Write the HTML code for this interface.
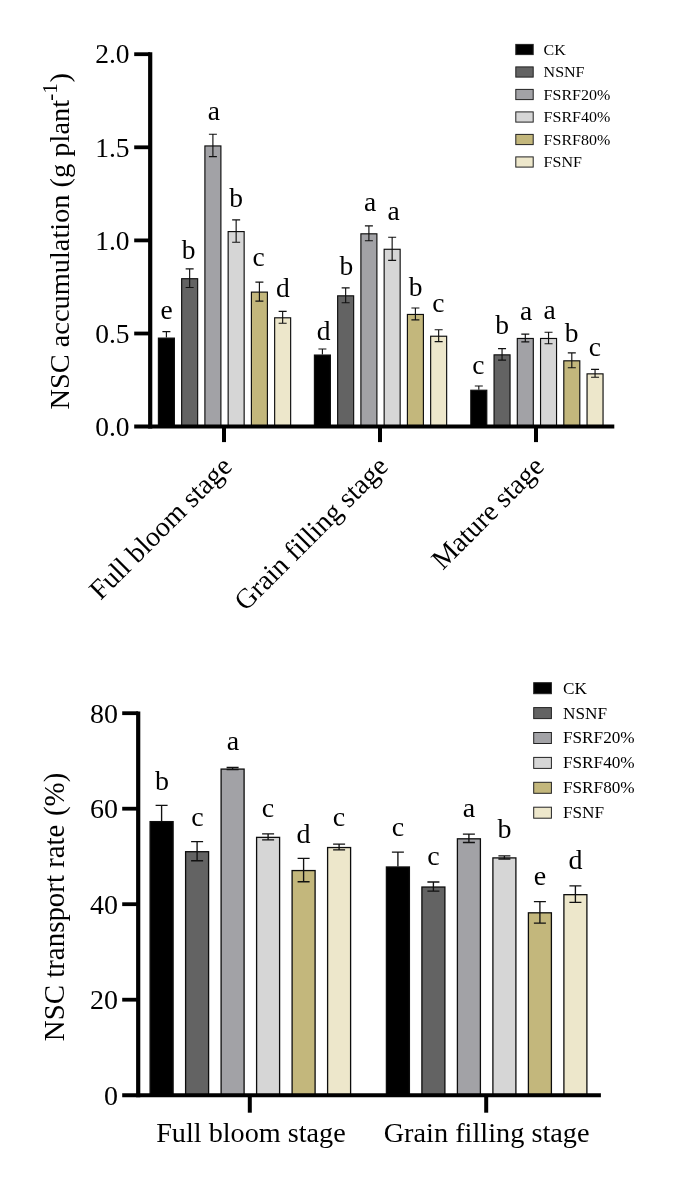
<!DOCTYPE html>
<html lang="en"><head><meta charset="utf-8"><title>NSC accumulation and transport rate</title>
<style>html,body{margin:0;padding:0;background:#fff}svg{display:block}text{font-family:'Liberation Serif','Times New Roman',serif;fill:#000}</style></head><body>
<svg width="685" height="1186" viewBox="0 0 685 1186">
<rect width="685" height="1186" fill="#fff"/>
<rect x="158.4" y="338.1" width="16" height="89" fill="#000000" stroke="#0d0d0d" stroke-width="1.15"/>
<path d="M166.4 331.64V337.6M162.4 331.64H170.4" stroke="#111" stroke-width="1.15" fill="none"/>
<rect x="181.65" y="278.7" width="16" height="148.4" fill="#636363" stroke="#0d0d0d" stroke-width="1.15"/>
<path d="M189.65 268.89V287.51M185.65 268.89H193.65M185.65 287.51H193.65" stroke="#111" stroke-width="1.15" fill="none"/>
<rect x="204.9" y="145.94" width="16" height="281.16" fill="#A2A2A6" stroke="#0d0d0d" stroke-width="1.15"/>
<path d="M212.9 134.27V156.61M208.9 134.27H216.9M208.9 156.61H216.9" stroke="#111" stroke-width="1.15" fill="none"/>
<rect x="228.15" y="231.59" width="16" height="195.51" fill="#D6D6D6" stroke="#0d0d0d" stroke-width="1.15"/>
<path d="M236.15 219.92V242.26M232.15 219.92H240.15M232.15 242.26H240.15" stroke="#111" stroke-width="1.15" fill="none"/>
<rect x="251.4" y="292.11" width="16" height="135" fill="#C3B77C" stroke="#0d0d0d" stroke-width="1.15"/>
<path d="M259.4 282.11V301.1M255.4 282.11H263.4M255.4 301.1H263.4" stroke="#111" stroke-width="1.15" fill="none"/>
<rect x="274.65" y="317.8" width="16" height="109.3" fill="#EDE7CB" stroke="#0d0d0d" stroke-width="1.15"/>
<path d="M282.65 311.34V323.26M278.65 311.34H286.65M278.65 323.26H286.65" stroke="#111" stroke-width="1.15" fill="none"/>
<rect x="314.4" y="355.04" width="16" height="72.06" fill="#000000" stroke="#0d0d0d" stroke-width="1.15"/>
<path d="M322.4 348.95V354.54M318.4 348.95H326.4" stroke="#111" stroke-width="1.15" fill="none"/>
<rect x="337.65" y="295.83" width="16" height="131.27" fill="#636363" stroke="#0d0d0d" stroke-width="1.15"/>
<path d="M345.65 287.88V302.78M341.65 287.88H349.65M341.65 302.78H349.65" stroke="#111" stroke-width="1.15" fill="none"/>
<rect x="360.9" y="233.82" width="16" height="193.28" fill="#A2A2A6" stroke="#0d0d0d" stroke-width="1.15"/>
<path d="M368.9 225.88V240.77M364.9 225.88H372.9M364.9 240.77H372.9" stroke="#111" stroke-width="1.15" fill="none"/>
<rect x="384.15" y="249.28" width="16" height="177.82" fill="#D6D6D6" stroke="#0d0d0d" stroke-width="1.15"/>
<path d="M392.15 237.23V260.32M388.15 237.23H396.15M388.15 260.32H396.15" stroke="#111" stroke-width="1.15" fill="none"/>
<rect x="407.4" y="314.45" width="16" height="112.65" fill="#C3B77C" stroke="#0d0d0d" stroke-width="1.15"/>
<path d="M415.4 307.99V319.91M411.4 307.99H419.4M411.4 319.91H419.4" stroke="#111" stroke-width="1.15" fill="none"/>
<rect x="430.65" y="336.23" width="16" height="90.87" fill="#EDE7CB" stroke="#0d0d0d" stroke-width="1.15"/>
<path d="M438.65 329.78V341.69M434.65 329.78H442.65M434.65 341.69H442.65" stroke="#111" stroke-width="1.15" fill="none"/>
<rect x="470.8" y="390.23" width="16" height="36.87" fill="#000000" stroke="#0d0d0d" stroke-width="1.15"/>
<path d="M478.8 386.01V389.73M474.8 386.01H482.8" stroke="#111" stroke-width="1.15" fill="none"/>
<rect x="494.05" y="354.85" width="16" height="72.25" fill="#636363" stroke="#0d0d0d" stroke-width="1.15"/>
<path d="M502.05 348.58V360.13M498.05 348.58H506.05M498.05 360.13H506.05" stroke="#111" stroke-width="1.15" fill="none"/>
<rect x="517.3" y="338.47" width="16" height="88.63" fill="#A2A2A6" stroke="#0d0d0d" stroke-width="1.15"/>
<path d="M525.3 334.06V341.88M521.3 334.06H529.3M521.3 341.88H529.3" stroke="#111" stroke-width="1.15" fill="none"/>
<rect x="540.55" y="338.47" width="16" height="88.63" fill="#D6D6D6" stroke="#0d0d0d" stroke-width="1.15"/>
<path d="M548.55 332.2V343.74M544.55 332.2H552.55M544.55 343.74H552.55" stroke="#111" stroke-width="1.15" fill="none"/>
<rect x="563.8" y="360.81" width="16" height="66.29" fill="#C3B77C" stroke="#0d0d0d" stroke-width="1.15"/>
<path d="M571.8 352.86V367.76M567.8 352.86H575.8M567.8 367.76H575.8" stroke="#111" stroke-width="1.15" fill="none"/>
<rect x="587.05" y="373.85" width="16" height="53.25" fill="#EDE7CB" stroke="#0d0d0d" stroke-width="1.15"/>
<path d="M595.05 369.44V377.26M591.05 369.44H599.05M591.05 377.26H599.05" stroke="#111" stroke-width="1.15" fill="none"/>
<text x="166.6" y="318.7" font-size="27.5" text-anchor="middle">e</text>
<text x="188.6" y="259.1" font-size="27.5" text-anchor="middle">b</text>
<text x="213.8" y="119.9" font-size="27.5" text-anchor="middle">a</text>
<text x="236" y="207" font-size="27.5" text-anchor="middle">b</text>
<text x="258.6" y="265.7" font-size="27.5" text-anchor="middle">c</text>
<text x="282.8" y="297.4" font-size="27.5" text-anchor="middle">d</text>
<text x="323.5" y="340" font-size="27.5" text-anchor="middle">d</text>
<text x="346.3" y="274.7" font-size="27.5" text-anchor="middle">b</text>
<text x="370.1" y="211.2" font-size="27.5" text-anchor="middle">a</text>
<text x="393.7" y="220" font-size="27.5" text-anchor="middle">a</text>
<text x="415.6" y="295.5" font-size="27.5" text-anchor="middle">b</text>
<text x="438.3" y="312.2" font-size="27.5" text-anchor="middle">c</text>
<text x="478.3" y="373.9" font-size="27.5" text-anchor="middle">c</text>
<text x="502" y="334.4" font-size="27.5" text-anchor="middle">b</text>
<text x="526" y="319.6" font-size="27.5" text-anchor="middle">a</text>
<text x="549.7" y="318.5" font-size="27.5" text-anchor="middle">a</text>
<text x="571.7" y="341.5" font-size="27.5" text-anchor="middle">b</text>
<text x="594.8" y="355.7" font-size="27.5" text-anchor="middle">c</text>
<path d="M150.2 52.3V428.6" stroke="#000" stroke-width="4.2" fill="none"/>
<path d="M134.2 426.6H614.3" stroke="#000" stroke-width="4" fill="none"/>
<text x="129.6" y="435.8" font-size="27.5" text-anchor="end">0.0</text>
<path d="M134.2 333.5H150.2" stroke="#000" stroke-width="3.8" fill="none"/>
<text x="129.6" y="342.7" font-size="27.5" text-anchor="end">0.5</text>
<path d="M134.2 240.4H150.2" stroke="#000" stroke-width="3.8" fill="none"/>
<text x="129.6" y="249.6" font-size="27.5" text-anchor="end">1.0</text>
<path d="M134.2 147.3H150.2" stroke="#000" stroke-width="3.8" fill="none"/>
<text x="129.6" y="156.5" font-size="27.5" text-anchor="end">1.5</text>
<path d="M134.2 54.2H150.2" stroke="#000" stroke-width="3.8" fill="none"/>
<text x="129.6" y="63.4" font-size="27.5" text-anchor="end">2.0</text>
<path d="M224 426.6V442.1" stroke="#000" stroke-width="4" fill="none"/>
<path d="M380 426.6V442.1" stroke="#000" stroke-width="4" fill="none"/>
<path d="M536 426.6V442.1" stroke="#000" stroke-width="4" fill="none"/>
<text transform="translate(233.5 468) rotate(-45)" font-size="28" text-anchor="end">Full bloom stage</text>
<text transform="translate(389.5 468) rotate(-45)" font-size="28" text-anchor="end">Grain filling stage</text>
<text transform="translate(545.5 468) rotate(-45)" font-size="28" text-anchor="end">Mature stage</text>
<text transform="translate(68.5 409.5) rotate(-90)" font-size="28.37">NSC accumulation (g plant<tspan font-size="21" dy="-11.6" dx="-0.8">-1</tspan><tspan dy="11.6" dx="0.8">)</tspan></text>
<rect x="515.8" y="44.4" width="17.4" height="10.2" fill="#000000" stroke="#222" stroke-width="1"/>
<text transform="translate(543.6 54.9) scale(1.053 1)" font-size="15.2">CK</text>
<rect x="515.8" y="66.9" width="17.4" height="10.2" fill="#636363" stroke="#222" stroke-width="1"/>
<text transform="translate(543.6 77.4) scale(1.053 1)" font-size="15.2">NSNF</text>
<rect x="515.8" y="89.4" width="17.4" height="10.2" fill="#A2A2A6" stroke="#222" stroke-width="1"/>
<text transform="translate(543.6 99.9) scale(1.053 1)" font-size="15.2">FSRF20%</text>
<rect x="515.8" y="111.9" width="17.4" height="10.2" fill="#D6D6D6" stroke="#222" stroke-width="1"/>
<text transform="translate(543.6 122.4) scale(1.053 1)" font-size="15.2">FSRF40%</text>
<rect x="515.8" y="134.4" width="17.4" height="10.2" fill="#C3B77C" stroke="#222" stroke-width="1"/>
<text transform="translate(543.6 144.9) scale(1.053 1)" font-size="15.2">FSRF80%</text>
<rect x="515.8" y="156.9" width="17.4" height="10.2" fill="#EDE7CB" stroke="#222" stroke-width="1"/>
<text transform="translate(543.6 167.4) scale(1.053 1)" font-size="15.2">FSNF</text>
<rect x="150.1" y="821.62" width="23" height="274.09" fill="#000000" stroke="#0d0d0d" stroke-width="1.3"/>
<path d="M161.6 805.36V821.12M155.6 805.36H167.6" stroke="#111" stroke-width="1.35" fill="none"/>
<rect x="185.6" y="851.7" width="23" height="244" fill="#636363" stroke="#0d0d0d" stroke-width="1.3"/>
<path d="M197.1 841.65V860.75M191.1 841.65H203.1M191.1 860.75H203.1" stroke="#111" stroke-width="1.35" fill="none"/>
<rect x="221.1" y="769.09" width="23" height="326.61" fill="#A2A2A6" stroke="#0d0d0d" stroke-width="1.3"/>
<path d="M232.6 767.54V769.64M226.6 767.54H238.6M226.6 769.64H238.6" stroke="#111" stroke-width="1.35" fill="none"/>
<rect x="256.6" y="837.37" width="23" height="258.33" fill="#D6D6D6" stroke="#0d0d0d" stroke-width="1.3"/>
<path d="M268.1 833.91V839.83M262.1 833.91H274.1M262.1 839.83H274.1" stroke="#111" stroke-width="1.35" fill="none"/>
<rect x="292.1" y="870.56" width="23" height="225.14" fill="#C3B77C" stroke="#0d0d0d" stroke-width="1.3"/>
<path d="M303.6 858.36V881.76M297.6 858.36H309.6M297.6 881.76H309.6" stroke="#111" stroke-width="1.35" fill="none"/>
<rect x="327.6" y="847.54" width="23" height="248.16" fill="#EDE7CB" stroke="#0d0d0d" stroke-width="1.3"/>
<path d="M339.1 844.18V849.91M333.1 844.18H345.1M333.1 849.91H345.1" stroke="#111" stroke-width="1.35" fill="none"/>
<rect x="386.4" y="866.98" width="23" height="228.72" fill="#000000" stroke="#0d0d0d" stroke-width="1.3"/>
<path d="M397.9 852.15V866.48M391.9 852.15H403.9" stroke="#111" stroke-width="1.35" fill="none"/>
<rect x="421.9" y="887.03" width="23" height="208.67" fill="#636363" stroke="#0d0d0d" stroke-width="1.3"/>
<path d="M433.4 882V891.07M427.4 882H439.4M427.4 891.07H439.4" stroke="#111" stroke-width="1.35" fill="none"/>
<rect x="457.4" y="838.81" width="23" height="256.89" fill="#A2A2A6" stroke="#0d0d0d" stroke-width="1.3"/>
<path d="M468.9 834.1V842.51M462.9 834.1H474.9M462.9 842.51H474.9" stroke="#111" stroke-width="1.35" fill="none"/>
<rect x="492.9" y="857.9" width="23" height="237.8" fill="#D6D6D6" stroke="#0d0d0d" stroke-width="1.3"/>
<path d="M504.4 855.83V858.98M498.4 855.83H510.4M498.4 858.98H510.4" stroke="#111" stroke-width="1.35" fill="none"/>
<rect x="528.4" y="912.82" width="23" height="182.88" fill="#C3B77C" stroke="#0d0d0d" stroke-width="1.3"/>
<path d="M539.9 901.57V923.06M533.9 901.57H545.9M533.9 923.06H545.9" stroke="#111" stroke-width="1.35" fill="none"/>
<rect x="563.9" y="894.67" width="23" height="201.03" fill="#EDE7CB" stroke="#0d0d0d" stroke-width="1.3"/>
<path d="M575.4 885.91V902.43M569.4 885.91H581.4M569.4 902.43H581.4" stroke="#111" stroke-width="1.35" fill="none"/>
<text x="162" y="790" font-size="28" text-anchor="middle">b</text>
<text x="197.4" y="826.2" font-size="28" text-anchor="middle">c</text>
<text x="232.9" y="749.8" font-size="28" text-anchor="middle">a</text>
<text x="268" y="817" font-size="28" text-anchor="middle">c</text>
<text x="303.5" y="842.6" font-size="28" text-anchor="middle">d</text>
<text x="339" y="826.2" font-size="28" text-anchor="middle">c</text>
<text x="398" y="836" font-size="28" text-anchor="middle">c</text>
<text x="433.5" y="865.1" font-size="28" text-anchor="middle">c</text>
<text x="469" y="817.1" font-size="28" text-anchor="middle">a</text>
<text x="504.5" y="837.8" font-size="28" text-anchor="middle">b</text>
<text x="540" y="885.4" font-size="28" text-anchor="middle">e</text>
<text x="575.5" y="869.3" font-size="28" text-anchor="middle">d</text>
<path d="M138.2 711.5V1097.2" stroke="#000" stroke-width="4.2" fill="none"/>
<path d="M122.2 1095.2H600.9" stroke="#000" stroke-width="4" fill="none"/>
<text x="118" y="1104.7" font-size="28" text-anchor="end">0</text>
<path d="M122.2 999.7H138.2" stroke="#000" stroke-width="3.8" fill="none"/>
<text x="118" y="1009.2" font-size="28" text-anchor="end">20</text>
<path d="M122.2 904.2H138.2" stroke="#000" stroke-width="3.8" fill="none"/>
<text x="118" y="913.7" font-size="28" text-anchor="end">40</text>
<path d="M122.2 808.7H138.2" stroke="#000" stroke-width="3.8" fill="none"/>
<text x="118" y="818.2" font-size="28" text-anchor="end">60</text>
<path d="M122.2 713.2H138.2" stroke="#000" stroke-width="3.8" fill="none"/>
<text x="118" y="722.7" font-size="28" text-anchor="end">80</text>
<path d="M249.8 1095.2V1112.7" stroke="#000" stroke-width="4" fill="none"/>
<path d="M486.2 1095.2V1112.7" stroke="#000" stroke-width="4" fill="none"/>
<text x="250.9" y="1141.9" font-size="28.2" text-anchor="middle">Full bloom stage</text>
<text x="486.6" y="1141.9" font-size="28.3" text-anchor="middle">Grain filling stage</text>
<text transform="translate(64.2 1041.2) rotate(-90)" font-size="28.9">NSC transport rate <tspan dx="1.3">(%)</tspan></text>
<rect x="533.7" y="682.7" width="17.7" height="11" fill="#000000" stroke="#222" stroke-width="1"/>
<text x="563" y="693.6" font-size="17.2">CK</text>
<rect x="533.7" y="707.6" width="17.7" height="11" fill="#636363" stroke="#222" stroke-width="1"/>
<text x="563" y="718.5" font-size="17.2">NSNF</text>
<rect x="533.7" y="732.5" width="17.7" height="11" fill="#A2A2A6" stroke="#222" stroke-width="1"/>
<text x="563" y="743.4" font-size="17.2">FSRF20%</text>
<rect x="533.7" y="757.4" width="17.7" height="11" fill="#D6D6D6" stroke="#222" stroke-width="1"/>
<text x="563" y="768.3" font-size="17.2">FSRF40%</text>
<rect x="533.7" y="782.3" width="17.7" height="11" fill="#C3B77C" stroke="#222" stroke-width="1"/>
<text x="563" y="793.2" font-size="17.2">FSRF80%</text>
<rect x="533.7" y="807.2" width="17.7" height="11" fill="#EDE7CB" stroke="#222" stroke-width="1"/>
<text x="563" y="818.1" font-size="17.2">FSNF</text>
</svg></body></html>
